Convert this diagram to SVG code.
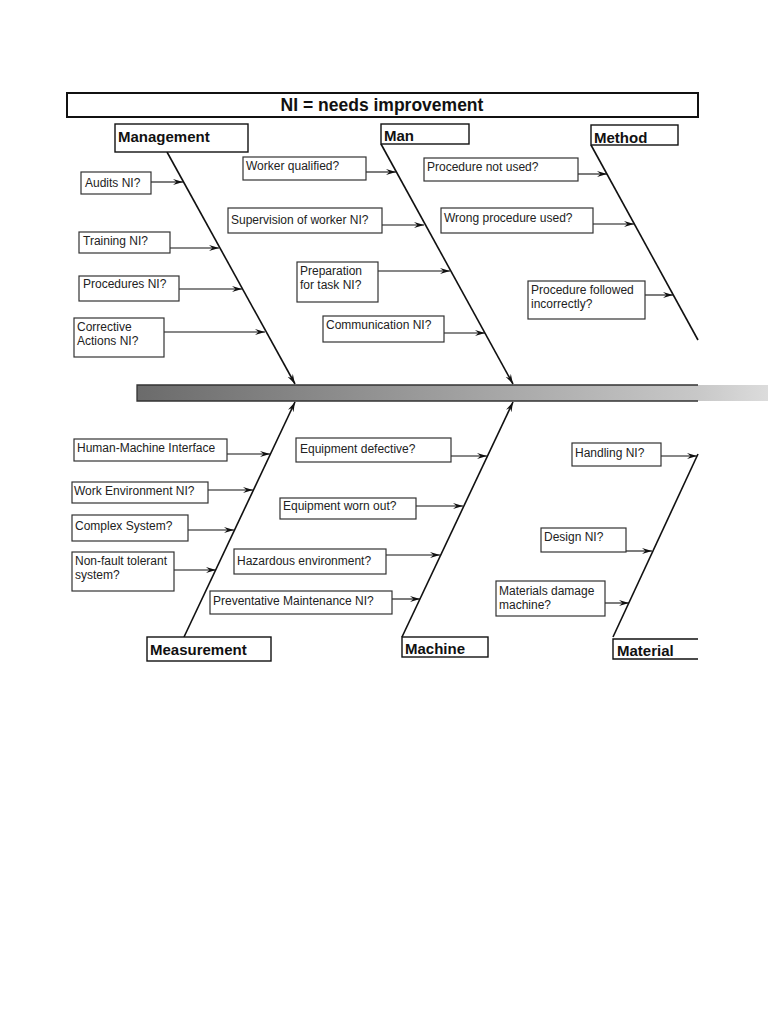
<svg xmlns="http://www.w3.org/2000/svg" width="768" height="1024" viewBox="0 0 768 1024">
<style>
.bx{fill:#fff;stroke:#333;stroke-width:1.2}
.cat{fill:#fff;stroke:#111;stroke-width:1.4}
.t{font-family:"Liberation Sans",Arial,sans-serif;font-size:12px;fill:#222}
.ct{font-family:"Liberation Sans",Arial,sans-serif;font-size:15px;font-weight:bold;fill:#111}
.c{stroke:#111;stroke-width:1.1;fill:none;marker-end:url(#ah)}
.bone{stroke:#111;stroke-width:1.6;fill:none}
</style>
<defs>
<marker id="ah" markerUnits="userSpaceOnUse" markerWidth="10" markerHeight="7" refX="10" refY="3.5" orient="auto">
<path d="M0,0.5 L10,3.5 L0,6.5 L3.5,3.5 z" fill="#111"/>
</marker>
<linearGradient id="spg" x1="137" y1="0" x2="768" y2="0" gradientUnits="userSpaceOnUse">
<stop offset="0" stop-color="#6b6b6b"/>
<stop offset="0.89" stop-color="#c8c8c8"/>
<stop offset="1" stop-color="#dcdcdc"/>
</linearGradient>
</defs>
<rect width="768" height="1024" fill="#fff"/>

<g id="title">
<rect x="67" y="93" width="631" height="24" fill="#fff" stroke="#111" stroke-width="2"/>
<text x="382" y="111" text-anchor="middle" font-family="Liberation Sans,Arial,sans-serif" font-size="17.5" font-weight="bold" fill="#111">NI = needs improvement</text>
</g>

<g id="spine">
<rect x="137" y="385" width="631" height="16" fill="url(#spg)"/>
<path d="M698,385 H137 V401 H698" fill="none" stroke="#333" stroke-width="1.3"/>
</g>

<g id="connectors">
<!-- main bones -->
<line class="bone" x1="167" y1="152" x2="295" y2="384" marker-end="url(#ah)"/>
<line class="bone" x1="381" y1="144" x2="513" y2="384" marker-end="url(#ah)"/>
<line class="bone" x1="591" y1="145" x2="698" y2="340"/>
<line class="bone" x1="184" y1="637" x2="295" y2="402" marker-end="url(#ah)"/>
<line class="bone" x1="402" y1="637" x2="513" y2="402" marker-end="url(#ah)"/>
<line class="bone" x1="613" y1="637" x2="698" y2="454"/>
<!-- management causes -->
<line class="c" x1="151" y1="182" x2="183" y2="182"/>
<line class="c" x1="170" y1="248" x2="219" y2="248"/>
<line class="c" x1="179" y1="289" x2="242" y2="289"/>
<line class="c" x1="164" y1="332" x2="265" y2="332"/>
<!-- man causes -->
<line class="c" x1="366" y1="172" x2="396" y2="172"/>
<line class="c" x1="382" y1="225" x2="424" y2="225"/>
<line class="c" x1="378" y1="271" x2="450" y2="271"/>
<line class="c" x1="444" y1="333" x2="485" y2="333"/>
<!-- method causes -->
<line class="c" x1="578" y1="174" x2="607" y2="174"/>
<line class="c" x1="593" y1="224" x2="634" y2="224"/>
<line class="c" x1="645" y1="295" x2="673" y2="295"/>
<!-- measurement causes -->
<line class="c" x1="227" y1="454" x2="270" y2="454" stroke-width="2"/>
<line class="c" x1="208" y1="490" x2="253" y2="490"/>
<line class="c" x1="188" y1="530" x2="234" y2="530"/>
<line class="c" x1="174" y1="570" x2="216" y2="570"/>
<!-- machine causes -->
<line class="c" x1="451" y1="456" x2="487" y2="456"/>
<line class="c" x1="416" y1="506" x2="463" y2="506"/>
<line class="c" x1="386" y1="555" x2="440" y2="555"/>
<line class="c" x1="392" y1="599" x2="420" y2="599"/>
<!-- material causes -->
<line class="c" x1="661" y1="456" x2="697" y2="456"/>
<line class="c" x1="626" y1="551" x2="652" y2="551"/>
<line class="c" x1="605" y1="603" x2="629" y2="603"/>
</g>

<g id="cat-management"><rect class="cat" x="115" y="124" width="133" height="28"/><text class="ct" x="118" y="142">Management</text></g>
<g id="cat-man"><rect class="cat" x="381" y="124" width="88" height="20"/><text class="ct" x="384" y="141">Man</text></g>
<g id="cat-method"><rect class="cat" x="591" y="125" width="87" height="20"/><text class="ct" x="594" y="143">Method</text></g>
<g id="cat-measurement"><rect class="cat" x="147" y="637" width="124" height="24"/><text class="ct" x="150" y="655">Measurement</text></g>
<g id="cat-machine"><rect class="cat" x="402" y="637" width="86" height="20"/><text class="ct" x="405" y="654">Machine</text></g>
<g id="cat-material"><path d="M698,639 H613 V659 H698" fill="#fff" stroke="#111" stroke-width="1.4"/><text class="ct" x="617" y="656">Material</text></g>

<g id="audits"><rect class="bx" x="81" y="172" width="70" height="22"/><text class="t" x="85" y="187">Audits NI?</text></g>
<g id="training"><rect class="bx" x="79" y="232" width="91" height="21"/><text class="t" x="83" y="245">Training NI?</text></g>
<g id="procedures"><rect class="bx" x="79" y="276" width="100" height="25"/><text class="t" x="83" y="288">Procedures NI?</text></g>
<g id="corrective"><rect class="bx" x="74" y="318" width="90" height="39"/><text class="t" x="77" y="331">Corrective</text><text class="t" x="77" y="345">Actions NI?</text></g>

<g id="worker"><rect class="bx" x="243" y="157" width="123" height="23"/><text class="t" x="246" y="170">Worker qualified?</text></g>
<g id="supervision"><rect class="bx" x="228" y="208" width="154" height="25"/><text class="t" x="231" y="224">Supervision of worker NI?</text></g>
<g id="preparation"><rect class="bx" x="297" y="262" width="81" height="40"/><text class="t" x="300" y="275">Preparation</text><text class="t" x="300" y="289">for task NI?</text></g>
<g id="communication"><rect class="bx" x="323" y="316" width="121" height="26"/><text class="t" x="326" y="329">Communication NI?</text></g>

<g id="notused"><rect class="bx" x="424" y="158" width="154" height="23"/><text class="t" x="427" y="171">Procedure not used?</text></g>
<g id="wrong"><rect class="bx" x="441" y="208" width="152" height="25"/><text class="t" x="444" y="222">Wrong procedure used?</text></g>
<g id="followed"><rect class="bx" x="528" y="281" width="117" height="38"/><text class="t" x="531" y="294">Procedure followed</text><text class="t" x="531" y="308">incorrectly?</text></g>

<g id="hmi"><rect class="bx" x="74" y="439" width="153" height="22"/><text class="t" x="77" y="452">Human-Machine Interface</text></g>
<g id="workenv"><rect class="bx" x="72" y="482" width="136" height="21"/><text class="t" x="74" y="495">Work Environment NI?</text></g>
<g id="complex"><rect class="bx" x="72" y="515" width="116" height="26"/><text class="t" x="75" y="530">Complex System?</text></g>
<g id="nonfault"><rect class="bx" x="72" y="552" width="102" height="39"/><text class="t" x="75" y="565">Non-fault tolerant</text><text class="t" x="75" y="579">system?</text></g>

<g id="defective"><rect class="bx" x="296" y="438" width="155" height="24"/><text class="t" x="300" y="453">Equipment defective?</text></g>
<g id="wornout"><rect class="bx" x="280" y="498" width="136" height="21"/><text class="t" x="283" y="510">Equipment worn out?</text></g>
<g id="hazardous"><rect class="bx" x="234" y="549" width="152" height="25"/><text class="t" x="237" y="565">Hazardous environment?</text></g>
<g id="preventative"><rect class="bx" x="210" y="591" width="182" height="23"/><text class="t" x="213" y="605">Preventative Maintenance NI?</text></g>

<g id="handling"><rect class="bx" x="572" y="443" width="89" height="23"/><text class="t" x="575" y="457">Handling NI?</text></g>
<g id="design"><rect class="bx" x="541" y="528" width="85" height="24"/><text class="t" x="544" y="541">Design NI?</text></g>
<g id="damage"><rect class="bx" x="496" y="581" width="109" height="35"/><text class="t" x="499" y="595">Materials damage</text><text class="t" x="499" y="609">machine?</text></g>
</svg>
